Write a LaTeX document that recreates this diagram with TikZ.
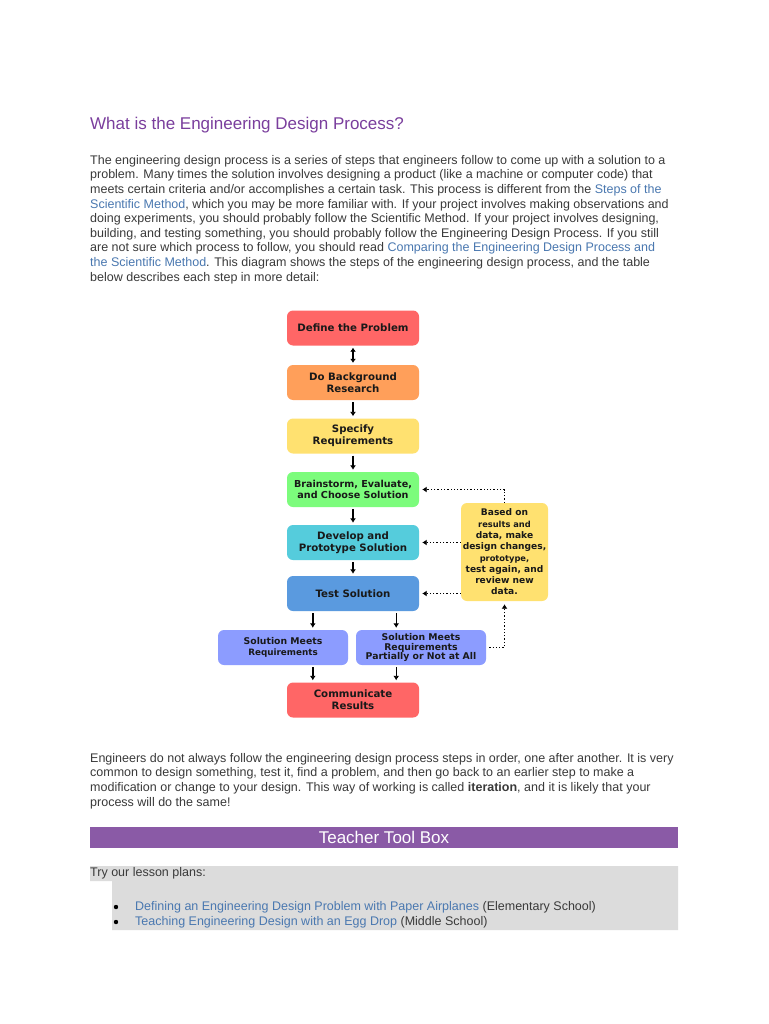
\documentclass[tikz,border=0pt]{standalone}
\usepackage{fontspec}
\setmainfont{Liberation Sans}
\newfontfamily\boxfont{DejaVu Sans}
\usetikzlibrary{arrows.meta}
\definecolor{bodytext}{HTML}{3A3A3A}
\definecolor{linkblue}{HTML}{4A78B0}
\definecolor{titlepurple}{HTML}{7A3E9D}
\definecolor{barpurple}{HTML}{8A5AA6}
\definecolor{panelgray}{HTML}{DCDCDC}
\definecolor{stepred}{HTML}{FF6666}
\definecolor{steporange}{HTML}{FF9F5A}
\definecolor{stepyellow}{HTML}{FFE170}
\definecolor{stepgreen}{HTML}{7CFC7C}
\definecolor{stepcyan}{HTML}{55CCDC}
\definecolor{stepblue}{HTML}{5A9ADF}
\definecolor{steplilac}{HTML}{8C9CFF}
\newcommand{\lnk}[1]{\textcolor{linkblue}{#1}}
\begin{document}
\begin{tikzpicture}[x=1pt,y=-1pt]
\tikzstyle{stepbox} = [rounded corners=6pt, minimum width=132, minimum height=35,
                       inner sep=1, align=center, text=black!90,
                       font=\boxfont\bfseries\fontsize{10.2}{12}\selectfont]
\tikzstyle{bodypar} = [anchor=north west, inner sep=0, align=left, text=bodytext,
                       font=\fontsize{12.5}{14.6}\selectfont]
\tikzstyle{flow} = [-{Latex[length=4.5pt,width=6pt]}, line width=1.4pt, shorten >=2, shorten <=2]
\tikzstyle{loop} = [-{Latex[length=4.5pt,width=6pt]}, line width=1.3pt, dotted, shorten >=3]
\useasboundingbox [fill=white] (0,0) rectangle (768,1024);
% heading and first paragraph
\node [anchor=west, inner sep=0, text=titlepurple, font=\fontsize{17}{20}\selectfont]
  (title) at (90,125) {What is the Engineering Design Process?};
\node [bodypar] (intro) at (90,155) {The engineering design process is a series of steps that engineers follow to come up with a solution to a\\
problem. Many times the solution involves designing a product (like a machine or computer code) that\\
meets certain criteria and/or accomplishes a certain task. This process is different from the \lnk{Steps of the}\\
\lnk{Scientific Method}, which you may be more familiar with. If your project involves making observations and\\
doing experiments, you should probably follow the Scientific Method. If your project involves designing,\\
building, and testing something, you should probably follow the Engineering Design Process. If you still\\
are not sure which process to follow, you should read \lnk{Comparing the Engineering Design Process and}\\
\lnk{the Scientific Method}. This diagram shows the steps of the engineering design process, and the table\\
below describes each step in more detail:};
% the process chart
\node [stepbox, fill=stepred] (define) at (353,328) {Define the Problem};
\node [stepbox, fill=steporange] (research) at (353,382.5) {Do Background\\Research};
\node [stepbox, fill=stepyellow] (specify) at (353,436) {Specify\\Requirements};
\node [stepbox, fill=stepgreen, font=\boxfont\bfseries\fontsize{9.6}{11.5}\selectfont]
  (brainstorm) at (353,489.5) {Brainstorm, Evaluate,\\and Choose Solution};
\node [stepbox, fill=stepcyan] (develop) at (353,542.5) {Develop and\\Prototype Solution};
\node [stepbox, fill=stepblue] (test) at (353,593.5) {Test Solution};
\node [stepbox, fill=steplilac, minimum width=130,
       font=\boxfont\bfseries\fontsize{9.3}{11}\selectfont] (meets) at (283,647.5)
  {Solution Meets\\{\fontsize{8.8}{11}\selectfont Requirements}};
\node [stepbox, fill=steplilac, minimum width=130,
       font=\boxfont\bfseries\fontsize{9.3}{9.8}\selectfont] (partial) at (421,647.5)
  {Solution Meets\\Requirements\\Partially or Not at All};
\node [stepbox, fill=stepred] (communicate) at (353,700) {Communicate\\Results};
\node [stepbox, fill=stepyellow, minimum width=87, minimum height=98,
       font=\boxfont\bfseries\fontsize{9.1}{11.3}\selectfont] (feedback) at (504.5,552)
  {Based on\\{\fontsize{8.3}{11.3}\selectfont results and}\\data, make\\design changes,\\
   {\fontsize{8.3}{11.3}\selectfont prototype,}\\test again, and\\review new\\data.};
\draw [{Latex[length=4pt,width=6pt]}-{Latex[length=4pt,width=6pt]}, line width=1.4pt,
       shorten >=2, shorten <=2] (define) -- (research);
\draw [flow] (research) -- (specify);
\draw [flow] (specify) -- (brainstorm);
\draw [flow] (brainstorm) -- (develop);
\draw [flow] (develop) -- (test);
\coordinate (splitl) at ([xshift=26]test.south west);
\coordinate (splitr) at ([xshift=-23]test.south east);
\draw [flow] (splitl) -- (splitl |- meets.north);
\draw [flow] (splitr) -- (splitr |- partial.north);
\draw [flow] (splitl |- meets.south) -- (splitl |- communicate.north);
\draw [flow] (splitr |- partial.south) -- (splitr |- communicate.north);
\draw [loop] (feedback.north) |- (brainstorm.east);
\draw [loop] (feedback.west |- develop.east) -- (develop.east);
\draw [loop] (feedback.west |- test.east) -- (test.east);
\draw [loop] ([xshift=3]partial.east) -| (feedback.south);
% second paragraph
\node [bodypar] (iterate) at (90,753) {Engineers do not always follow the engineering design process steps in order, one after another. It is very\\
common to design something, test it, find a problem, and then go back to an earlier step to make a\\
modification or change to your design. This way of working is called \textbf{iteration}, and it is likely that your\\
process will do the same!};
% teacher tool box
\node [fill=barpurple, minimum width=588, minimum height=21, inner sep=0, text=white,
       font=\fontsize{17}{20}\selectfont] (toolbar) at (384,837.5) {Teacher Tool Box};
\fill [panelgray] (90,866) -- (678,866) -- (678,930) -- (112,930) -- (112,881) -- (90,881) -- cycle;
\node [anchor=west, inner sep=0, text=bodytext, font=\fontsize{12.5}{14.6}\selectfont]
  (trylabel) at (90,873) {Try our lesson plans:};
\fill [black] (116,907) circle (2.2) (116,922) circle (2.2);
\node [anchor=west, inner sep=0, text=bodytext, font=\fontsize{12.5}{14.6}\selectfont]
  (planone) at (135,907) {\lnk{Defining an Engineering Design Problem with Paper Airplanes} (Elementary School)};
\node [anchor=west, inner sep=0, text=bodytext, font=\fontsize{12.5}{14.6}\selectfont]
  (plantwo) at (135,922) {\lnk{Teaching Engineering Design with an Egg Drop} (Middle School)};
\end{tikzpicture}
\end{document}
